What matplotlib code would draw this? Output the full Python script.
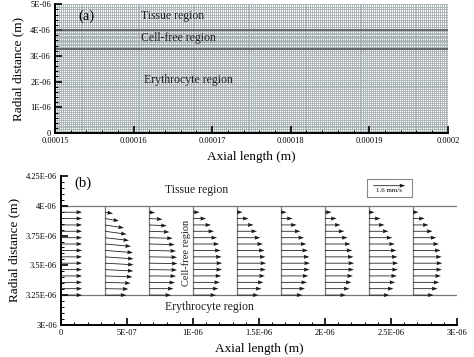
import numpy as np
import matplotlib
matplotlib.use('Agg')
import matplotlib.pyplot as plt
from matplotlib.patches import Rectangle
from matplotlib.ticker import MultipleLocator

plt.rcParams['font.family'] = ['Liberation Serif', 'DejaVu Serif']

# -------------------------------------------------------------------
# Panel (a): computational mesh
# -------------------------------------------------------------------
X_A = [0.00015, 0.0002]
Y_A = [0, 5e-6]
R_CELLFREE_TOP = 4e-6          # tissue / cell-free interface
R_CELLFREE_BOT = 3.25e-6       # cell-free / erythrocyte interface
XTICKS_A = [0.00015, 0.00016, 0.00017, 0.00018, 0.00019, 0.0002]
XLABELS_A = ['0.00015', '0.00016', '0.00017', '0.00018', '0.00019', '0.0002']
YTICKS_A = [0, 1e-6, 2e-6, 3e-6, 4e-6, 5e-6]
YLABELS_A = ['0', '1E-06', '2E-06', '3E-06', '4E-06', '5E-06']

# mesh line counts per region
N_AXIAL = 200
N_TISSUE = 10
N_CELLFREE = 14
N_ERY = 44

# -------------------------------------------------------------------
# Panel (b): velocity vectors
# -------------------------------------------------------------------
SECTION_X = [0, 0.333e-6, 0.667e-6, 1.0e-6, 1.333e-6, 1.667e-6, 2.0e-6, 2.333e-6, 2.667e-6]
ROW_R = [3.946e-6, 3.893e-6, 3.839e-6, 3.786e-6, 3.732e-6, 3.679e-6, 3.625e-6,
         3.571e-6, 3.518e-6, 3.464e-6, 3.411e-6, 3.357e-6, 3.304e-6, 3.250e-6]

# axial velocity (mm/s) per section, rows top -> bottom
U_SEC = [
    [1.05, 1.05, 1.05, 1.05, 1.05, 1.05, 1.05, 1.05, 1.05, 1.05, 1.05, 1.05, 1.05, 1.05],
    [0.40, 0.70, 0.95, 1.08, 1.20, 1.30, 1.40, 1.43, 1.43, 1.42, 1.37, 1.28, 1.17, 1.07],
    [0.30, 0.67, 0.88, 1.02, 1.18, 1.28, 1.35, 1.40, 1.42, 1.40, 1.35, 1.30, 1.22, 1.10],
    [0.33, 0.65, 0.90, 1.05, 1.20, 1.31, 1.38, 1.43, 1.46, 1.45, 1.41, 1.35, 1.27, 1.15],
    [0.28, 0.58, 0.83, 1.00, 1.17, 1.30, 1.38, 1.43, 1.46, 1.45, 1.40, 1.33, 1.23, 1.08],
    [0.28, 0.58, 0.78, 0.97, 1.15, 1.27, 1.35, 1.42, 1.45, 1.43, 1.37, 1.30, 1.20, 1.07],
    [0.33, 0.58, 0.78, 0.97, 1.13, 1.28, 1.37, 1.43, 1.46, 1.45, 1.40, 1.33, 1.23, 1.05],
    [0.28, 0.58, 0.78, 0.98, 1.17, 1.30, 1.38, 1.43, 1.47, 1.45, 1.40, 1.32, 1.23, 1.03],
    [0.28, 0.58, 0.78, 0.98, 1.17, 1.30, 1.38, 1.44, 1.47, 1.45, 1.40, 1.32, 1.23, 1.03],
]
# radial velocity (mm/s), only the developing sections are non-zero
V_SEC = [
    [0.0] * 14,
    [-0.07, -0.12, -0.15, -0.15, -0.14, -0.12, -0.11, -0.10, -0.08, -0.07, -0.05, -0.04, -0.02, 0.0],
    [-0.03, -0.04, -0.04, -0.04, -0.03, -0.03, -0.03, -0.02, -0.02, -0.02, -0.01, -0.01, 0.0, 0.0],
    [0.0] * 14, [0.0] * 14, [0.0] * 14, [0.0] * 14, [0.0] * 14, [0.0] * 14,
]
REF_SPEED = 1.6  # mm/s

XTICKS_B = [0, 5e-7, 1e-6, 1.5e-6, 2e-6, 2.5e-6, 3e-6]
XLABELS_B = ['0', '5E-07', '1E-06', '1.5E-06', '2E-06', '2.5E-06', '3E-06']
YTICKS_B = [3e-6, 3.25e-6, 3.5e-6, 3.75e-6, 4e-6, 4.25e-6]
YLABELS_B = ['3E-06', '3.25E-06', '3.5E-06', '3.75E-06', '4E-06', '4.25E-06']

fig = plt.figure(figsize=(4.74, 3.57), dpi=100)
ax1 = fig.add_axes([0.116, 0.627, 0.829, 0.361])
ax2 = fig.add_axes([0.129, 0.090, 0.835, 0.417])

MESH_C = '#a3acb0'
LINE_C = '#505050'


def style_axis(ax):
    for s in ['top', 'right']:
        ax.spines[s].set_visible(False)
    for s in ['left', 'bottom']:
        ax.spines[s].set_linewidth(1.4)
    ax.tick_params(which='major', direction='in', length=5, width=1.2, labelsize=6, pad=3)
    ax.tick_params(which='minor', direction='in', length=2.5, width=0.7)


# ---------------- (a) -----------------
xs = np.linspace(X_A[0], X_A[1], N_AXIAL + 1)
rs = np.concatenate([np.linspace(Y_A[0], R_CELLFREE_BOT, N_ERY + 1),
                     np.linspace(R_CELLFREE_BOT, R_CELLFREE_TOP, N_CELLFREE + 1),
                     np.linspace(R_CELLFREE_TOP, Y_A[1], N_TISSUE + 1)])
ax1.vlines(xs, Y_A[0], Y_A[1], color=MESH_C, lw=0.6, zorder=1)
ax1.hlines(rs, X_A[0], X_A[1], color=MESH_C, lw=0.55, zorder=1)
ax1.hlines([R_CELLFREE_TOP, R_CELLFREE_BOT], X_A[0], X_A[1], color=LINE_C, lw=1.1, zorder=2)
ax1.vlines([X_A[1]], Y_A[0], Y_A[1], color='#666666', lw=1.0, zorder=2)
ax1.set_xlim(X_A)
ax1.set_ylim(Y_A)
style_axis(ax1)
ax1.set_xticks(XTICKS_A, XLABELS_A)
ax1.set_yticks(YTICKS_A, YLABELS_A)
ax1.xaxis.set_minor_locator(MultipleLocator(2e-6))
ax1.yaxis.set_minor_locator(MultipleLocator(2e-7))
ax1.set_xlabel('Axial length (m)', fontsize=9.5, labelpad=4)
ax1.set_ylabel('Radial distance (m)', fontsize=9.5, labelpad=4)
ax1.text(0.000153, 4.55e-6, '(a)', fontsize=10.5, va='center')
ax1.text(0.000161, 4.55e-6, 'Tissue region', fontsize=8.5, va='center', color='#222222')
ax1.text(0.000161, 3.7e-6, 'Cell-free region', fontsize=8.5, va='center', color='#222222')
ax1.text(0.0001613, 2.05e-6, 'Erythrocyte region', fontsize=8.5, va='center', color='#222222')

# ---------------- (b) -----------------
ax2.hlines([R_CELLFREE_TOP, R_CELLFREE_BOT], 0, 3e-6, color='#777777', lw=0.9, zorder=1)
ax2.vlines(SECTION_X[1:], R_CELLFREE_BOT, R_CELLFREE_TOP, color='#777777', lw=0.9, zorder=1)

scale = REF_SPEED / (32 / 132.4 * 1e-6)
for x0, u, v in zip(SECTION_X, U_SEC, V_SEC):
    q = ax2.quiver(np.full(len(ROW_R), x0), ROW_R, u, v,
                   angles='uv', scale_units='x', scale=scale,
                   units='dots', width=0.8, headwidth=5, headlength=7,
                   headaxislength=6.5, color='#1a1a1a', zorder=3)

ax2.add_patch(Rectangle((0.772, 0.857), 0.115, 0.123, transform=ax2.transAxes,
                        fill=False, edgecolor='#888888', lw=0.8, zorder=4))
ax2.quiverkey(q, 0.829, 0.935, REF_SPEED, '1.6 mm/s', labelpos='S', labelsep=0.02,
              coordinates='axes', fontproperties={'size': 5, 'family': 'Liberation Serif'})

ax2.set_xlim(0, 3e-6)
ax2.set_ylim(3e-6, 4.25e-6)
style_axis(ax2)
ax2.set_xticks(XTICKS_B, XLABELS_B)
ax2.set_yticks(YTICKS_B, YLABELS_B)
ax2.xaxis.set_minor_locator(MultipleLocator(1e-7))
ax2.yaxis.set_minor_locator(MultipleLocator(5e-8))
ax2.set_xlabel('Axial length (m)', fontsize=9.5, labelpad=4)
ax2.set_ylabel('Radial distance (m)', fontsize=9.5, labelpad=4)
ax2.text(0.1e-6, 4.19e-6, '(b)', fontsize=10.5, va='center')
ax2.text(1.03e-6, 4.135e-6, 'Tissue region', fontsize=8.5, ha='center', va='center', color='#222222')
ax2.text(0.79e-6, 3.15e-6, 'Erythrocyte region', fontsize=8.5, va='center', color='#222222')
ax2.text(0.95e-6, 3.6e-6, 'Cell-free region', fontsize=7.5, rotation=90,
         ha='center', va='center', color='#222222')

fig.savefig('out.png', dpi=100)
